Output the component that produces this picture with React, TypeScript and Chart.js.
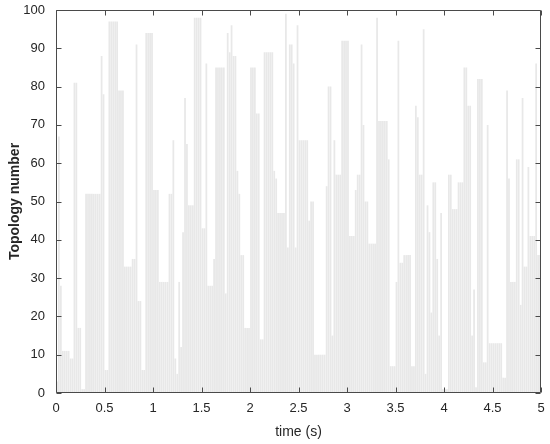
import React, { useEffect, useRef } from 'react';
import { Chart, registerables } from 'chart.js';

Chart.register(...registerables);

// sample spacing of the bars (s)
const dt = 0.02;

// Topology number per 0.02 s sample, t = 0 .. 5 s
const topologyValues = [
  3, 67, 28, 11, 11, 11, 11, 9, 9, 81,
  81, 17, 17, 1, 1, 52, 52, 52, 52, 52,
  52, 52, 52, 88, 78, 6, 6, 97, 97, 97,
  97, 97, 79, 79, 79, 33, 33, 33, 33, 35,
  35, 91, 24, 24, 6, 6, 94, 94, 94, 94,
  53, 53, 53, 29, 29, 29, 29, 29, 52, 52,
  66, 9, 5, 29, 12, 42, 77, 65, 49, 49,
  49, 98, 98, 98, 98, 43, 43, 86, 28, 28,
  28, 35, 85, 85, 85, 85, 85, 26, 94, 89,
  96, 88, 88, 58, 52, 36, 36, 17, 17, 17,
  85, 85, 85, 73, 73, 14, 14, 89, 89, 89,
  89, 89, 58, 56, 47, 47, 47, 47, 99, 38,
  91, 91, 86, 38, 96, 66, 66, 66, 66, 66,
  45, 50, 50, 10, 10, 10, 10, 10, 10, 54,
  80, 80, 15, 66, 57, 57, 57, 92, 92, 92,
  92, 41, 41, 41, 53, 57, 57, 91, 70, 50,
  50, 39, 39, 39, 39, 98, 71, 71, 71, 71,
  71, 61, 7, 7, 7, 29, 92, 34, 34, 36,
  36, 36, 36, 7, 7, 75, 72, 57, 57, 95,
  5, 49, 42, 21, 55, 55, 35, 15, 47, 1,
  1, 1, 57, 57, 48, 48, 48, 55, 55, 55,
  85, 85, 75, 75, 15, 27, 1.5, 82, 82, 82,
  8, 8, 70, 13, 13, 13, 13, 13, 13, 13,
  4, 4, 79, 56, 29, 29, 29, 61, 61, 23,
  77, 33, 33, 59, 41, 41, 41, 86, 36, 36,
];

const xTickLabels = ['0', '0.5', '1', '1.5', '2', '2.5', '3', '3.5', '4', '4.5', '5'];
const yTickLabels = ['0', '10', '20', '30', '40', '50', '60', '70', '80', '90', '100'];
const xTitle = 'time (s)';
const yTitle = 'Topology number';

const BAR_COLOR = '#e8e8e8';
const AXIS_COLOR = '#4a4a4a';
const TEXT_COLOR = '#262626';
const FONT = '"Liberation Sans", Arial, Helvetica, sans-serif';
const TICK_LEN = 5;

const boxTicksPlugin = {
  id: 'boxTicks',
  afterDraw(chart: any) {
    const { ctx, chartArea } = chart;
    const { left, right, top, bottom } = chartArea;
    const xs = chart.scales.x;
    const ys = chart.scales.y;
    const L = Math.round(left) + 0.5;
    const R = Math.round(right) - 0.5;
    const T = Math.round(top) + 0.5;
    const B = Math.round(bottom) - 0.5;
    ctx.save();
    ctx.strokeStyle = AXIS_COLOR;
    ctx.lineWidth = 1;
    ctx.beginPath();
    ctx.rect(L, T, R - L, B - T);
    xTickLabels.forEach((lbl) => {
      const px = Math.round(xs.getPixelForValue(parseFloat(lbl))) + 0.5;
      ctx.moveTo(px, B);
      ctx.lineTo(px, B - TICK_LEN);
      ctx.moveTo(px, T);
      ctx.lineTo(px, T + TICK_LEN);
    });
    yTickLabels.forEach((lbl) => {
      const py = Math.round(ys.getPixelForValue(parseFloat(lbl))) + 0.5;
      ctx.moveTo(L, py);
      ctx.lineTo(L + TICK_LEN, py);
      ctx.moveTo(R, py);
      ctx.lineTo(R - TICK_LEN, py);
    });
    ctx.stroke();
    ctx.restore();
  },
};

const zeroPad = (s: any) => {
  s.paddingTop = 0;
  s.paddingBottom = 0;
  s.paddingLeft = 0;
  s.paddingRight = 0;
};

export default function App() {
  const canvasRef = useRef<HTMLCanvasElement | null>(null);

  useEffect(() => {
    const canvas = canvasRef.current;
    if (!canvas) return;
    const data = topologyValues.map((v, i) => ({ x: (i + 0.5) * dt, y: v }));
    const chart = new Chart(canvas, {
      type: 'bar',
      data: {
        datasets: [
          {
            data: data as any,
            backgroundColor: BAR_COLOR,
            borderWidth: 0,
            barPercentage: 0.9,
            categoryPercentage: 1,
          },
        ],
      },
      options: {
        animation: false,
        responsive: true,
        maintainAspectRatio: false,
        layout: { padding: { left: 0, right: 9, top: 10, bottom: 0 } },
        plugins: {
          legend: { display: false },
          tooltip: { enabled: false },
        },
        scales: {
          x: {
            type: 'linear',
            min: 0,
            max: 5,
            offset: false,
            grid: { display: false, drawTicks: false },
            border: { display: false },
            afterBuildTicks: (s: any) => {
              s.ticks = xTickLabels.map((l) => ({ value: parseFloat(l) }));
            },
            afterFit: (s: any) => {
              s.height = 51;
              zeroPad(s);
            },
            ticks: {
              padding: 8,
              color: TEXT_COLOR,
              font: { family: FONT, size: 13 },
              maxRotation: 0,
              autoSkip: false,
              callback: (_v: any, i: number) => xTickLabels[i],
            },
            title: {
              display: true,
              text: xTitle,
              color: TEXT_COLOR,
              font: { family: FONT, size: 14 },
              padding: { top: 0, bottom: 3 },
            },
          },
          y: {
            type: 'linear',
            min: 0,
            max: 100,
            grid: { display: false, drawTicks: false },
            border: { display: false },
            afterBuildTicks: (s: any) => {
              s.ticks = yTickLabels.map((l) => ({ value: parseFloat(l) }));
            },
            afterFit: (s: any) => {
              s.width = 56;
              zeroPad(s);
            },
            ticks: {
              padding: 11,
              color: TEXT_COLOR,
              font: { family: FONT, size: 13 },
              autoSkip: false,
              callback: (_v: any, i: number) => yTickLabels[i],
            },
            title: {
              display: true,
              text: yTitle,
              color: TEXT_COLOR,
              font: { family: FONT, size: 14, weight: 'bold' },
              padding: { top: 7, bottom: 0 },
            },
          },
        },
      },
      plugins: [boxTicksPlugin],
    });
    return () => chart.destroy();
  }, []);

  return (
    <div style={{ position: 'fixed', left: 0, top: 0, width: 550, height: 444, background: '#fff' }}>
      <canvas ref={canvasRef} />
    </div>
  );
}
